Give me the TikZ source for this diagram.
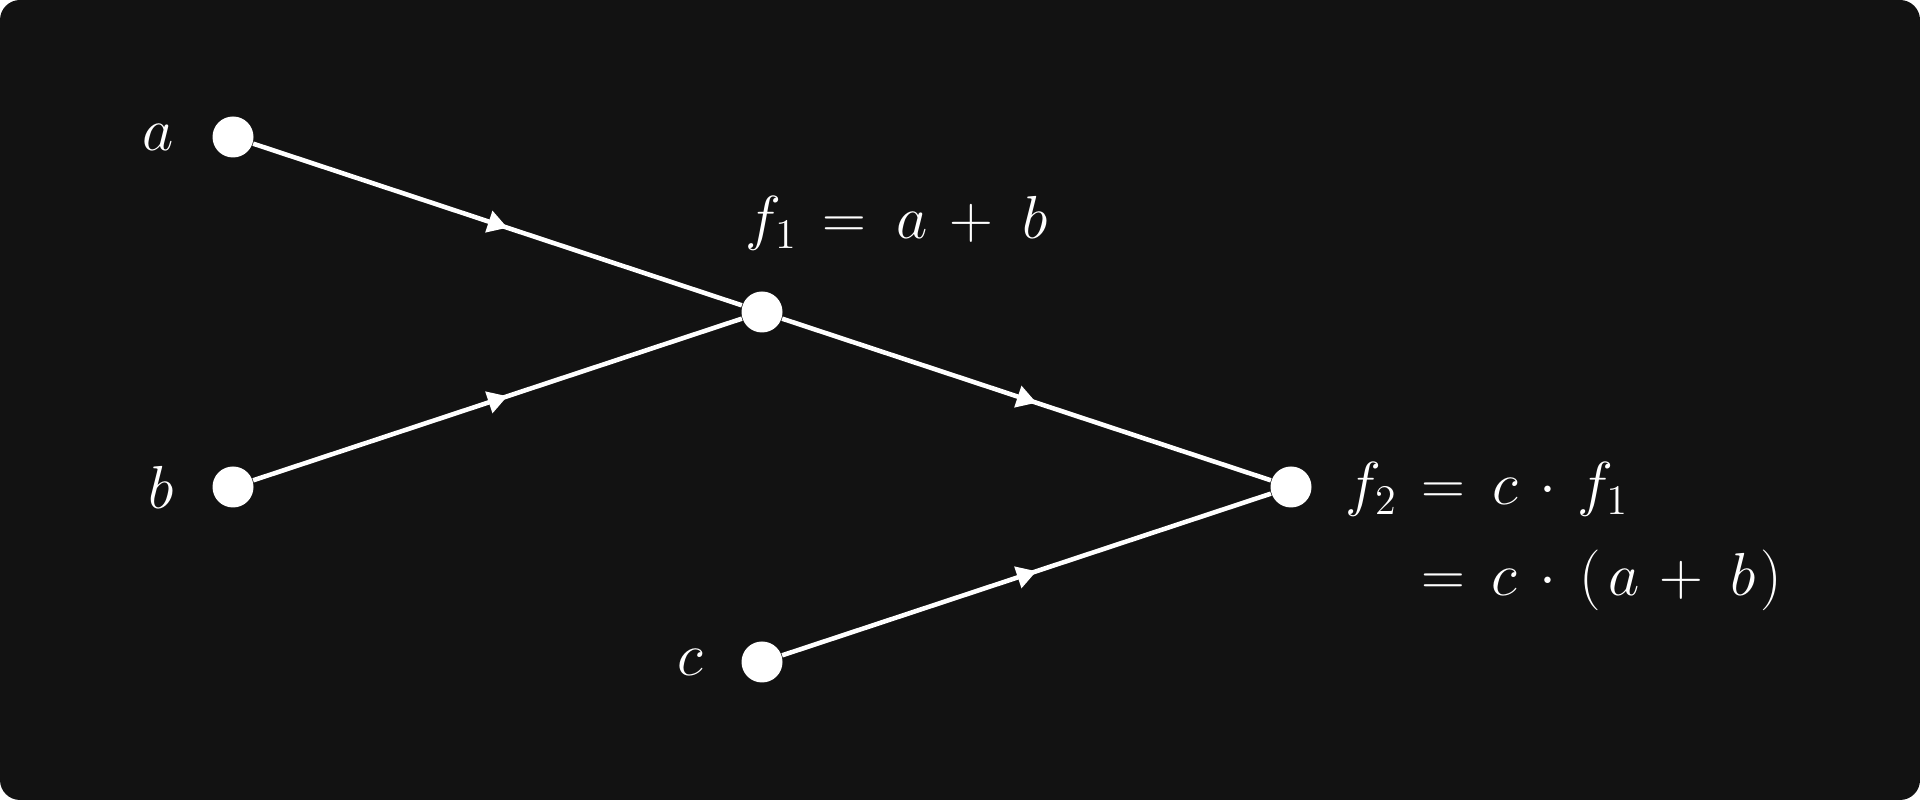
\documentclass[tikz,border=0pt]{standalone}
\usepackage{amsmath}
\usetikzlibrary{arrows.meta,decorations.markings,positioning}
\definecolor{bgdark}{HTML}{121212}

\begin{document}
\begin{tikzpicture}[x=1cm,y=1cm,
    font=\fontsize{18.2}{22.8}\selectfont,
    dot/.style={circle,fill=white,inner sep=0pt,minimum size=0.41cm},
    lbl/.style={text=white,inner sep=0pt},
    flow/.style={white,line width=1.3pt,postaction={decorate},
      decoration={markings,mark=at position 0.5 with {\arrow[xshift=3pt]{Triangle[length=5.6pt,width=6.2pt]}}}}]
            \fill[bgdark,rounded corners=0.2cm] (0,0) rectangle (19.2,8);
            \useasboundingbox (0,0) rectangle (19.2,8);
            % inputs and operations
            \node[dot] (a) at (2.33,6.63) {};
            \node[dot] (b) at (2.33,3.13) {};
            \node[dot] (c) at (7.62,1.38) {};
            \node[dot] (f1) at (7.62,4.88) {};
            \node[dot] (f2) at (12.91,3.13) {};
            \draw[flow] (a) -- (f1);
            \draw[flow] (b) -- (f1);
            \draw[flow] (f1) -- (f2);
            \draw[flow] (c) -- (f2);
            % labels
            \node[lbl,left=0.37cm of a] (la) {$a$};
            \node[lbl,left=0.37cm of b] (lb) {$b$};
            \node[lbl,left=0.37cm of c] (lc) {$c$};
            \node[lbl,anchor=base west] (lf1) at (7.45,5.61) {$f_1 \mskip2.5mu= \mskip4mu a \mskip2.5mu+ \mskip4.5mu b$};
            \node[lbl,anchor=base west] (lf2) at (13.45,2.95) {$\begin{aligned}[t] f_2 \mskip2mu&= \mskip3.2mu c \mskip2.5mu\cdot\mskip2mu f_1\\ &= \mskip3mu c \mskip2.5mu\cdot\mskip3mu (\mskip2mu a \mskip2mu+\mskip4mu b\mskip1.5mu)\end{aligned}$};
        \end{tikzpicture}
\end{document}
